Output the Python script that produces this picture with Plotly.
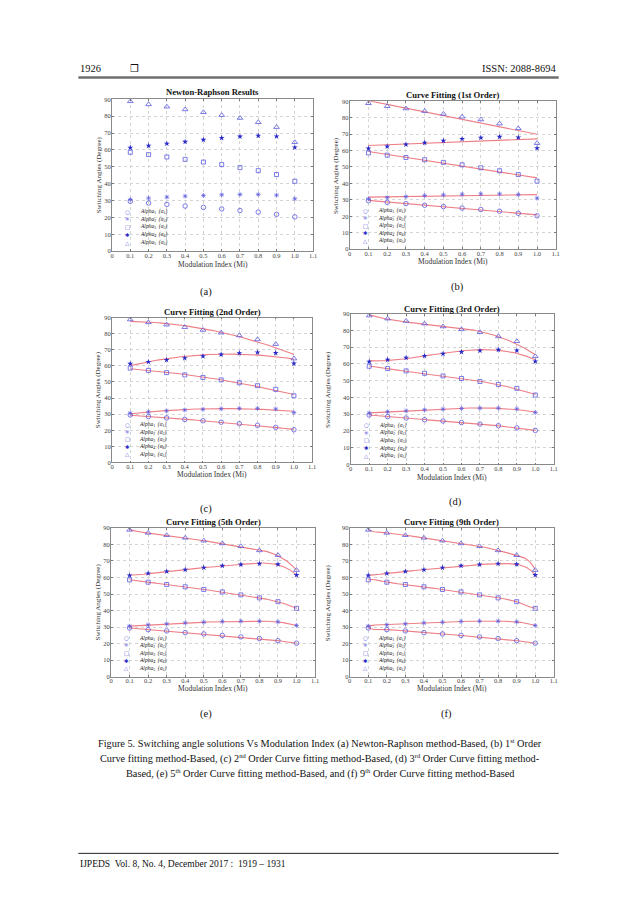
import numpy as np
import plotly.graph_objects as go

W, H = 638, 902
OFF = 8              # default body margin of the html page
FW, FH = W - OFF, H - OFF

# ---------------- data ----------------
mi = [0.1, 0.2, 0.3, 0.4, 0.5, 0.6, 0.7, 0.8, 0.9, 1.0]
alpha1 = [29.5, 28.5, 27.7, 26.7, 25.9, 25.0, 24.1, 23.1, 21.8, 20.3]
alpha2 = [30.6, 31.4, 32.0, 32.6, 33.0, 33.4, 33.6, 33.6, 33.2, 31.0]
alpha3 = [58.6, 57.2, 55.8, 54.4, 52.8, 51.3, 49.5, 47.7, 45.4, 41.4]
alpha4 = [61.3, 62.5, 63.7, 64.8, 66.0, 67.1, 67.9, 68.4, 68.0, 61.5]
alpha5 = [88.8, 87.0, 85.6, 84.0, 82.3, 80.6, 78.9, 76.4, 73.5, 64.5]

series = [alpha1, alpha2, alpha3, alpha4, alpha5]
series_labels = [
    "<i>Alpha</i><sub>1</sub>  <i>(α<sub>1</sub>)</i>",
    "<i>Alpha</i><sub>2</sub>  <i>(α<sub>2</sub>)</i>",
    "<i>Alpha</i><sub>3</sub>  <i>(α<sub>3</sub>)</i>",
    "<i>Alpha</i><sub>4</sub>  <i>(α<sub>4</sub>)</i>",
    "<i>Alpha</i><sub>5</sub>  <i>(α<sub>5</sub>)</i>",
]
legend_glyphs = ["○", "✳", "□", "✱", "△"]

panel_titles = [
    "Newton-Raphson Results",
    "Curve Fitting (1st Order)",
    "Curve Fitting (2nd Order)",
    "Curve Fitting (3rd Order)",
    "Curve Fitting (5th Order)",
    "Curve Fitting (9th Order)",
]
fit_orders = [None, 1, 2, 3, 5, 9]
panel_letters = ["(a)", "(b)", "(c)", "(d)", "(e)", "(f)"]

x_ticks = [0, 0.1, 0.2, 0.3, 0.4, 0.5, 0.6, 0.7, 0.8, 0.9, 1.0, 1.1]
x_tick_labels = ["0", "0.1", "0.2", "0.3", "0.4", "0.5", "0.6", "0.7", "0.8", "0.9", "1.0", "1.1"]
y_ticks = [0, 10, 20, 30, 40, 50, 60, 70, 80, 90]


def sup(s):
    return '<sup><span style="font-size:6.5px">' + s + "</span></sup>"


caption_lines = [
    "Figure 5. Switching angle solutions Vs Modulation Index (a) Newton-Raphson method-Based, (b) 1" + sup("st") + " Order",
    "Curve fitting method-Based, (c) 2" + sup("nd") + " Order Curve fitting method-Based, (d) 3" + sup("rd") + " Order Curve fitting method-",
    "Based, (e) 5" + sup("th") + " Order Curve fitting method-Based, and (f) 9" + sup("th") + " Order Curve fitting method-Based",
]

# ---------------- layout geometry (page pixels) ----------------
# x0, x1, ytop, ybottom, title_y, xlabel_y, ylabel_x, letter_x, letter_y
panels = [
    (111, 314, 96, 249, 89, 262, 98, 206, 290),
    (351, 559, 98, 247, 92, 259, 337, 460, 285),
    (111, 313, 316, 462, 310, 474, 97, 206, 509),
    (352, 557, 312, 464, 307, 477, 329, 458, 502),
    (110, 316, 528, 678, 522, 690, 97, 206, 716),
    (351, 557, 528, 678, 522, 690, 329, 449, 716),
]

SERIF = "Liberation Serif"
BLUE = "#5a5ae0"
DARK = "#2a2ac8"
marker_specs = [
    dict(symbol="circle-open", size=4.5, color=BLUE, lw=0.8),
    dict(symbol="asterisk-open", size=4, color=BLUE, lw=0.7),
    dict(symbol="square-open", size=4, color=BLUE, lw=0.8),
    dict(symbol="star", size=4.5, color=DARK, lw=0),
    dict(symbol="triangle-up-open", size=5, color=BLUE, lw=0.8),
]
glyph_colors = [BLUE, BLUE, BLUE, DARK, BLUE]
legend_y = [23.4, 18.9, 14.3, 9.6, 5.1]

fig = go.Figure()
annotations = []
shapes = []


def px_x(v):
    return (v - OFF) / FW


def px_y(v):
    return 1 - (v - OFF) / FH


xfine = np.linspace(0.1, 1.0, 200)

for p, (x0, x1, yt, yb, ty, xly, ylx, lx, ly) in enumerate(panels):
    n = "" if p == 0 else str(p + 1)
    xa, ya = "x" + n, "y" + n
    common = dict(
        ticks="inside", ticklen=2, tickcolor="#777", tickwidth=0.6,
        showline=True, mirror="ticks", linecolor="#8a8a8a", linewidth=0.8,
        showgrid=True, gridcolor="#d4d4d4", griddash="dot", gridwidth=0.6,
        zeroline=False, tickfont=dict(family=SERIF, size=6.5, color="#444"),
    )
    fig.update_layout({
        "xaxis" + n: dict(
            domain=[px_x(x0), px_x(x1)], anchor=ya, range=[0, 1.1],
            tickvals=x_ticks, ticktext=x_tick_labels, ticklabelstandoff=-2, **common,
        ),
        "yaxis" + n: dict(
            domain=[px_y(yb), px_y(yt)], anchor=xa, range=[0, 90],
            tickvals=y_ticks, ticklabelstandoff=-1, **common,
        ),
    })
    order = fit_orders[p]
    for k, vals in enumerate(series):
        if order is not None:
            coef = np.polyfit(mi, vals, order)
            fig.add_trace(go.Scatter(
                x=xfine, y=np.polyval(coef, xfine), mode="lines",
                line=dict(color="#ee7f86", width=1.1), xaxis=xa, yaxis=ya,
                showlegend=False, hoverinfo="skip",
            ))
        ms = marker_specs[k]
        fig.add_trace(go.Scatter(
            x=mi, y=vals, mode="markers", xaxis=xa, yaxis=ya, showlegend=False,
            marker=dict(symbol=ms["symbol"], size=ms["size"], color=ms["color"],
                        line=dict(width=ms["lw"], color=ms["color"])),
        ))
    # legend (MATLAB style, no box) as text
    for k in range(5):
        annotations.append(dict(
            x=0.083, y=legend_y[k], xref=xa, yref=ya, text=legend_glyphs[k],
            showarrow=False, xanchor="center", yanchor="middle",
            font=dict(family="DejaVu Sans", size=5.5, color=glyph_colors[k]),
        ))
        annotations.append(dict(
            x=0.14, y=legend_y[k], xref=xa, yref=ya, text=series_labels[k],
            showarrow=False, xanchor="left", yanchor="middle",
            font=dict(family=SERIF, size=5.5, color="#222"),
        ))
    # panel title
    annotations.append(dict(
        x=px_x((x0 + x1) / 2), y=px_y(ty), xref="paper", yref="paper",
        text="<b>" + panel_titles[p] + "</b>", showarrow=False,
        xanchor="center", yanchor="middle",
        font=dict(family=SERIF, size=8.6, color="#111"),
    ))
    # x label
    annotations.append(dict(
        x=px_x((x0 + x1) / 2), y=px_y(xly), xref="paper", yref="paper",
        text="Modulation Index (Mi)", showarrow=False,
        xanchor="center", yanchor="middle",
        font=dict(family=SERIF, size=7.5, color="#333"),
    ))
    # y label
    annotations.append(dict(
        x=px_x(ylx), y=px_y((yt + yb) / 2), xref="paper", yref="paper",
        text="Switching Angles (Degree)", showarrow=False, textangle=-90,
        xanchor="center", yanchor="middle",
        font=dict(family=SERIF, size=7, color="#333"),
    ))
    # panel letter
    annotations.append(dict(
        x=px_x(lx), y=px_y(ly), xref="paper", yref="paper",
        text=panel_letters[p], showarrow=False,
        xanchor="center", yanchor="middle",
        font=dict(family=SERIF, size=10.5, color="#111"),
    ))

# ---------------- page header / footer / caption ----------------
annotations += [
    dict(x=px_x(77), y=px_y(65), xref="paper", yref="paper", text="1926",
         showarrow=False, xanchor="left", yanchor="middle",
         font=dict(family=SERIF, size=10.5, color="#111")),
    dict(x=px_x(127), y=px_y(65), xref="paper", yref="paper", text="❒",
         showarrow=False, xanchor="left", yanchor="middle",
         font=dict(family="DejaVu Sans", size=10, color="#111")),
    dict(x=px_x(562), y=px_y(65), xref="paper", yref="paper", text="ISSN: 2088-8694",
         showarrow=False, xanchor="right", yanchor="middle",
         font=dict(family=SERIF, size=10.5, color="#111")),
    dict(x=px_x(77), y=px_y(867), xref="paper", yref="paper",
         text="IJPEDS  Vol. 8, No. 4, December 2017 :  1919 – 1931",
         showarrow=False, xanchor="left", yanchor="middle",
         font=dict(family=SERIF, size=9.5, color="#111")),
]
for i, line in enumerate(caption_lines):
    annotations.append(dict(
        x=px_x(321), y=px_y(745 + 15.5 * i), xref="paper", yref="paper", text=line,
        showarrow=False, xanchor="center", yanchor="middle",
        font=dict(family=SERIF, size=10.3, color="#111"),
    ))

shapes += [
    dict(type="line", xref="paper", yref="paper", x0=px_x(77), x1=px_x(562),
         y0=px_y(74), y1=px_y(74), line=dict(color="#6e6e6e", width=2.5)),
    dict(type="line", xref="paper", yref="paper", x0=px_x(77), x1=px_x(562),
         y0=px_y(856), y1=px_y(856), line=dict(color="#222", width=1)),
]

fig.update_layout(
    width=FW, height=FH, margin=dict(l=0, r=0, t=0, b=0),
    paper_bgcolor="white", plot_bgcolor="white",
    annotations=annotations, shapes=shapes, showlegend=False,
)

fig.write_html("out.html")
